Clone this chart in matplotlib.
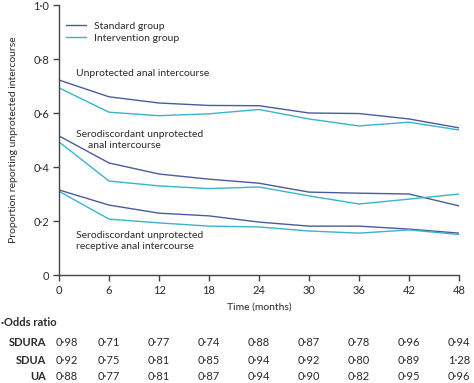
import matplotlib
matplotlib.use("Agg")
import matplotlib.pyplot as plt

months = [0, 6, 12, 18, 24, 30, 36, 42, 48]
ua_standard = [0.722, 0.660, 0.637, 0.628, 0.627, 0.600, 0.598, 0.578, 0.545]
ua_intervention = [0.693, 0.603, 0.590, 0.597, 0.613, 0.578, 0.552, 0.566, 0.537]
sdua_standard = [0.515, 0.415, 0.374, 0.355, 0.340, 0.307, 0.303, 0.300, 0.256]
sdua_intervention = [0.493, 0.348, 0.330, 0.320, 0.326, 0.293, 0.263, 0.281, 0.300]
sdura_standard = [0.315, 0.259, 0.229, 0.219, 0.196, 0.181, 0.181, 0.170, 0.155]
sdura_intervention = [0.310, 0.207, 0.193, 0.181, 0.178, 0.163, 0.155, 0.167, 0.150]

or_labels = ["SDURA", "SDUA", "UA"]
or_sdura = ["0·98", "0·71", "0·77", "0·74", "0·88", "0·87", "0·78", "0·96", "0·94"]
or_sdua = ["0·92", "0·75", "0·81", "0·85", "0·94", "0·92", "0·80", "0·89", "1·28"]
or_ua = ["0·88", "0·77", "0·81", "0·87", "0·94", "0·90", "0·82", "0·95", "0·96"]

yticks = [0, 0.2, 0.4, 0.6, 0.8, 1.0]
ytick_labels = ["0", "0·2", "0·4", "0·6", "0·8", "1·0"]

c_std = "#4b5b9c"
c_int = "#3ab4c9"
txt = "#2b2b2b"
plt.rcParams["font.family"] = ["Lato", "DejaVu Sans"]
fs = 8.0
fl = 7.5

W, H = 474, 383
fig = plt.figure(figsize=(W / 100, H / 100), dpi=100)
ax = fig.add_axes([59 / W, 1 - 275 / H, 400 / W, 270 / H])

lw = 1.0
ax.plot(months, ua_standard, color=c_std, lw=lw, label="Standard group")
ax.plot(months, ua_intervention, color=c_int, lw=lw, label="Intervention group")
ax.plot(months, sdua_standard, color=c_std, lw=lw)
ax.plot(months, sdua_intervention, color=c_int, lw=lw)
ax.plot(months, sdura_standard, color=c_std, lw=lw)
ax.plot(months, sdura_intervention, color=c_int, lw=lw)

ax.set_xlim(0, 48)
ax.set_ylim(0, 1.0)
ax.set_xticks(months)
ax.set_xticklabels([str(m) for m in months])
ax.set_yticks(yticks)
ax.set_yticklabels(ytick_labels)
for s in ["top", "right"]:
    ax.spines[s].set_visible(False)
for s in ["left", "bottom"]:
    ax.spines[s].set_color("#444444")
    ax.spines[s].set_linewidth(1.0)
ax.tick_params(axis="both", direction="out", length=4, width=1.0, color="#444444",
               labelsize=fs, labelcolor=txt, pad=3)
ax.set_xlabel("Time (months)", fontsize=fl, color=txt, labelpad=5)
ax.set_ylabel("Proportion reporting unprotected intercourse", fontsize=fl, color=txt, labelpad=11)

leg = ax.legend(loc="upper left", bbox_to_anchor=(0.0, 0.965), frameon=False, fontsize=fl,
                handlelength=1.85, handletextpad=0.8, labelspacing=0.25, borderaxespad=0.3)
for t in leg.get_texts():
    t.set_color(txt)

ax.text(2.0, 0.745, "Unprotected anal intercourse", fontsize=fl, color=txt, va="center")
ax.text(2.0, 0.519, "Serodiscordant unprotected", fontsize=fl, color=txt, va="center")
ax.text(3.5, 0.478, "anal intercourse", fontsize=fl, color=txt, va="center")
ax.text(2.0, 0.148, "Serodiscordant unprotected", fontsize=fl, color=txt, va="center")
ax.text(2.0, 0.107, "receptive anal intercourse", fontsize=fl, color=txt, va="center")

# Odds ratio table
def xfig(m):
    return (59 + m / 48 * 400) / W

fig.text(1 / W, 1 - 323 / H, "·Odds ratio", fontsize=fs, fontweight="bold", color=txt,
         va="center", ha="left")
rows = [or_sdura, or_sdua, or_ua]
ys = [342, 360, 377]
for lab, row, yy in zip(or_labels, rows, ys):
    fig.text(46 / W, 1 - yy / H, lab, fontsize=fs, fontweight="bold", color=txt,
             va="center", ha="right")
    for m, v in zip(months, row):
        off = 8 if m == 0 else 0
        fig.text(xfig(m) + off / W, 1 - yy / H, v, fontsize=fs, color=txt, va="center", ha="center")

fig.savefig("out.png", dpi=100, facecolor="white")
